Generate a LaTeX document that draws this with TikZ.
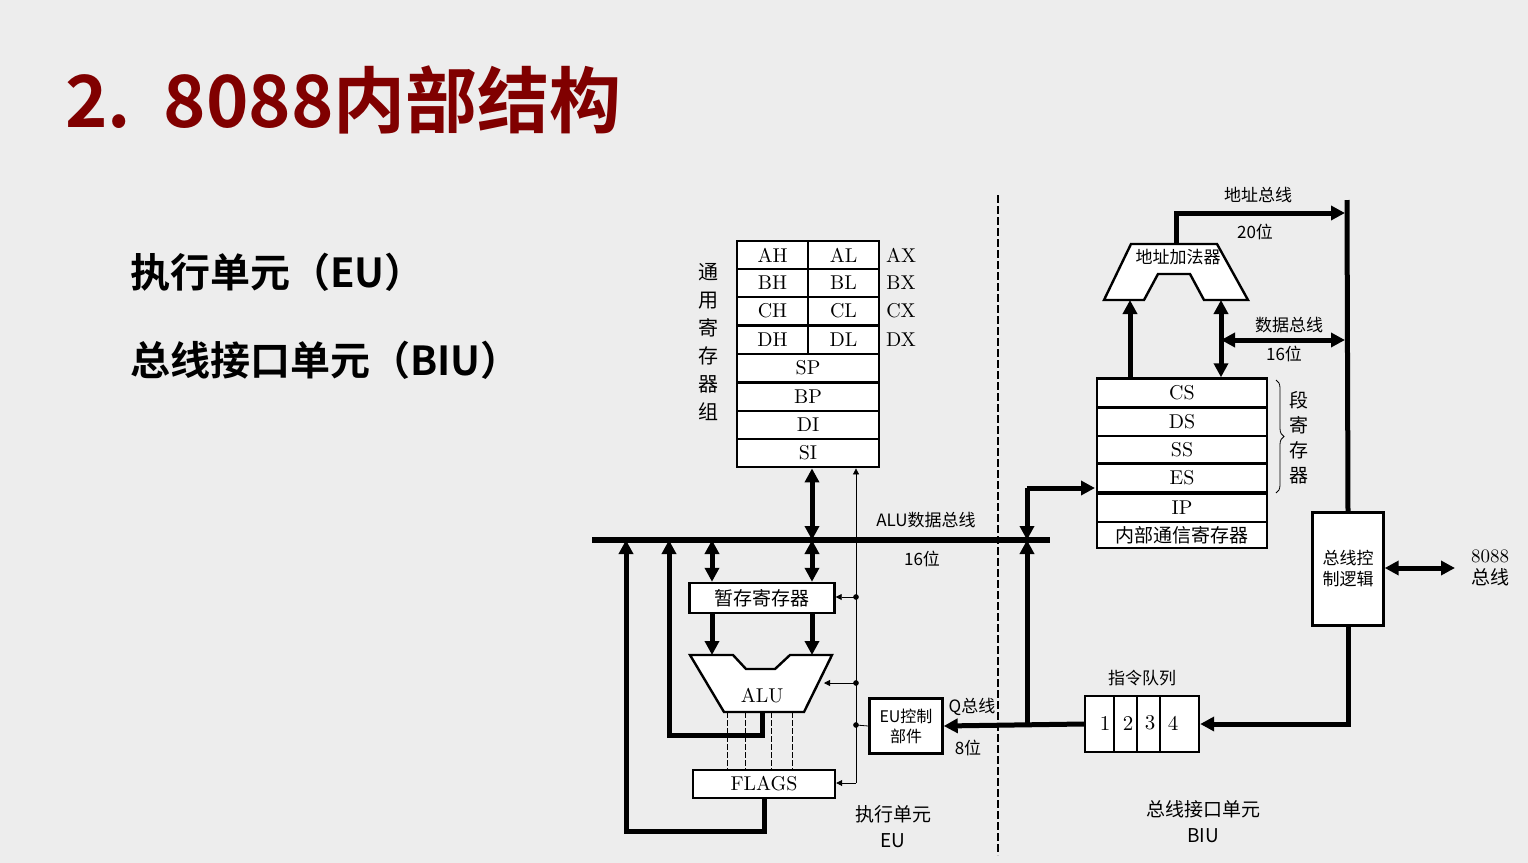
\documentclass[tikz,border=0pt]{standalone}
\usepackage{fontspec}
\newfontfamily\cjk{Noto Sans CJK SC}
\newfontfamily\cjkb{Noto Sans CJK SC Bold}
\usepackage{xcolor}
\usepackage{tikz}
\usetikzlibrary{positioning,arrows.meta,decorations.pathreplacing}
\definecolor{bg}{HTML}{EDEDED}
\definecolor{titlered}{HTML}{800000}
\begin{document}
\begin{tikzpicture}[x=0.5pt,y=-0.5pt,
  regnode/.style={draw, very thick, fill=white, inner sep=0pt, font=\fontsize{10}{10}\selectfont},
  lbl/.style={inner sep=0pt, font=\cjk\fontsize{8.5}{10}\selectfont},
  bus/.style={line width=2.5pt, -{Triangle[length=7pt,width=7pt]}},
  dbus/.style={line width=2.5pt, {Triangle[length=7pt,width=7pt]}-{Triangle[length=7pt,width=7pt]}},
  ctl/.style={thin, -{Triangle[length=3pt,width=3pt]}},
  dot/.style={circle, fill, inner sep=1pt}]
\fill[bg] (0,0) rectangle (1528,863);
\useasboundingbox (0,0) rectangle (1528,863);

% title and bullets
\node[anchor=west, text=titlered, font=\cjkb\fontsize{36}{36}\selectfont] (title) at (58,100) {2.\ \ 8088内部结构};
\node[anchor=west, font=\cjkb\fontsize{20}{22}\selectfont] (eu) at (123,272) {执行单元（EU）};
\node[anchor=west, font=\cjkb\fontsize{20}{22}\selectfont] (biu) at (123,360) {总线接口单元（BIU）};

% general registers
\foreach \hi/\lo/\xx/\y in {AH/AL/AX/255, BH/BL/BX/283, CH/CL/CX/311, DH/DL/DX/340}{
  \node[regnode, minimum width=35.5pt, minimum height=14.2pt] (\hi) at (772.5,\y) {\hi};
  \node[regnode, minimum width=35.5pt, minimum height=14.2pt] (\lo) at (843.5,\y) {\lo};
  \node[lbl, font=\fontsize{10}{10}\selectfont] (\xx) at (901,\y) {\xx};
}
\foreach \r/\y in {SP/368, BP/397, DI/425, SI/453}
  \node[regnode, minimum width=71pt, minimum height=14.2pt] (\r) at (808,\y) {\r};
\node[lbl, align=center, font=\cjk\fontsize{10}{14}\selectfont] (grp) at (708,342) {通\\用\\寄\\存\\器\\组};

% ALU bus and divider
\coordinate (busL) at (592,540);
\coordinate (busR) at (1050,540);
\draw[line width=3pt] (busL) -- (busR);
\coordinate (divT) at (998,195);
\coordinate (divB) at (998,855);
\draw[dash pattern=on 4pt off 1.5pt, thick] (divT) -- (divB);
\node[lbl] (alubus) at (926,520) {ALU数据总线};
\node[lbl] (w16a) at (922,559) {16位};

% temp register, ALU, flags
\node[regnode, font=\cjk\fontsize{9.5}{10}\selectfont, minimum width=72.5pt, minimum height=15pt] (tmp) at (762,598) {暂存寄存器};
\draw[very thick, fill=white] (690,655) -- (733,655) -- (746,669) -- (775,669) -- (790,655) -- (832,655) -- (804,712) -- (724,712) -- cycle;
\node[lbl, font=\fontsize{10}{10}\selectfont] (alu) at (762,696) {ALU};
\node[regnode, minimum width=71pt, minimum height=14pt] (flags) at (764,784) {FLAGS};
\foreach \xx in {727,745,771,792}
  \draw[dash pattern=on 3pt off 1pt] (\xx,712) -- (\xx,770);

\draw[dbus] (SI.south -| 812,0) -- (812,540);
\draw[dbus] (812,540) -- (tmp.north -| 812,0);
\draw[dbus] (712,540) -- (tmp.north -| 712,0);
\draw[bus] (tmp.south -| 712,0) -- (712,655);
\draw[bus] (tmp.south -| 812,0) -- (812,655);
\draw[bus] (762,712) |- (669,735) -- (669,540);
\draw[bus] (flags.south) |- (626,831) -- (626,540);

% EU control
\node[regnode, align=center, font=\cjk\fontsize{8}{10}\selectfont, minimum width=36.5pt, minimum height=27.5pt] (euctl) at (906,726) {EU控制\\部件};
\coordinate (c1) at (856,597);
\coordinate (c2) at (856,683);
\coordinate (c3) at (856,725);
\coordinate (c4) at (856,783);
\draw[ctl] (c4) -- (SI.south -| c1);
\draw[ctl] (c1) -- (tmp.east |- c1);
\draw[ctl] (c2) -- (824,683);
\draw[ctl] (c4) -- (flags.east |- c4);
\draw (euctl.west) -- (c3);
\foreach \c in {c1,c2,c3} \node[dot] at (\c) {};
\node[lbl] (qbus) at (972,707) {Q总线};
\node[lbl] (w8) at (968,748) {8位};
\node[lbl, align=center, font=\cjk\fontsize{9.5}{13}\selectfont] (eulbl) at (893,827) {执行单元\\EU};

% segment registers
\foreach \r/\y/\h in {CS/393/14.5, DS/422/14, SS/450/14, ES/478/14.5, IP/508/14.5}
  \node[regnode, minimum width=85pt, minimum height=\h pt] (\r) at (1182,\y) {\r};
\node[regnode, font=\cjk\fontsize{9.5}{10}\selectfont, minimum width=85pt, minimum height=13pt] (icr) at (1182,535) {内部通信寄存器};
\draw[decorate, decoration={brace, amplitude=4pt}] (1276,380) -- (1276,493);
\node[lbl, align=center, font=\cjk\fontsize{9.5}{12.5}\selectfont] (seg) at (1299,438) {段\\寄\\存\\器};

% address adder
\draw[very thick, fill=white] (1131,244) -- (1217,244) -- (1248,300) -- (1204,300) -- (1190,274) -- (1158,274) -- (1144,300) -- (1104,300) -- cycle;
\node[lbl] (adder) at (1178,257) {地址加法器};
\draw[bus] (CS.north -| 1130,0) -- (1130,300);
\draw[dbus] (CS.north -| 1221,0) -- (1221,300);
\coordinate (abus) at (1345,213);
\draw[bus] (1176,244) |- (abus);
\node[lbl] (abl) at (1258,195) {地址总线};
\node[lbl] (w20) at (1255,232) {20位};
\coordinate (dbusR) at (1345,340);
\draw[dbus] (1221,340) -- (dbusR);
\node[lbl] (dbl) at (1289,325) {数据总线};
\node[lbl] (w16b) at (1284,354) {16位};

% bus control, queue
\node[regnode, align=center, font=\cjk\fontsize{8.5}{10.5}\selectfont, minimum width=35.5pt, minimum height=56.5pt] (bcl) at (1348,569) {总线控\\制逻辑};
\draw[line width=2.5pt] (1347,200) -- (bcl.north);
\node[regnode, minimum width=57pt, minimum height=28pt] (queue) at (1142,724) {};
\foreach \xx in {1114,1137,1160} \draw[thick] (\xx,696) -- (\xx,752);
\foreach \n/\xx in {1/1105,2/1128,3/1150,4/1173}
  \node[lbl, font=\fontsize{10.5}{10}\selectfont] (q\n) at (\xx,723) {\n};
\node[lbl] (qlbl) at (1142,678) {指令队列};
\draw[bus] (bcl.south) |- (queue.east);
\draw[bus] (queue.west) -- (euctl.east);
\coordinate (qj) at (1027,725);
\coordinate (sj) at (1027,488);
\coordinate (se) at (1095,488);
\draw[bus] (qj) -- (1027,540);
\draw[bus] (sj) -- (1027,540);
\draw[bus] (sj) -- (se);
\node[lbl, align=center, font=\cjk\fontsize{9.5}{13}\selectfont] (biulbl) at (1203,822) {总线接口单元\\BIU};
\coordinate (ext) at (1455,568);
\draw[dbus] (bcl.east |- ext) -- (ext);
\node[lbl, align=center, font=\fontsize{9.5}{11}\selectfont] (ext8088) at (1490,568) {8088\\{\cjk 总线}};
\end{tikzpicture}
\end{document}
